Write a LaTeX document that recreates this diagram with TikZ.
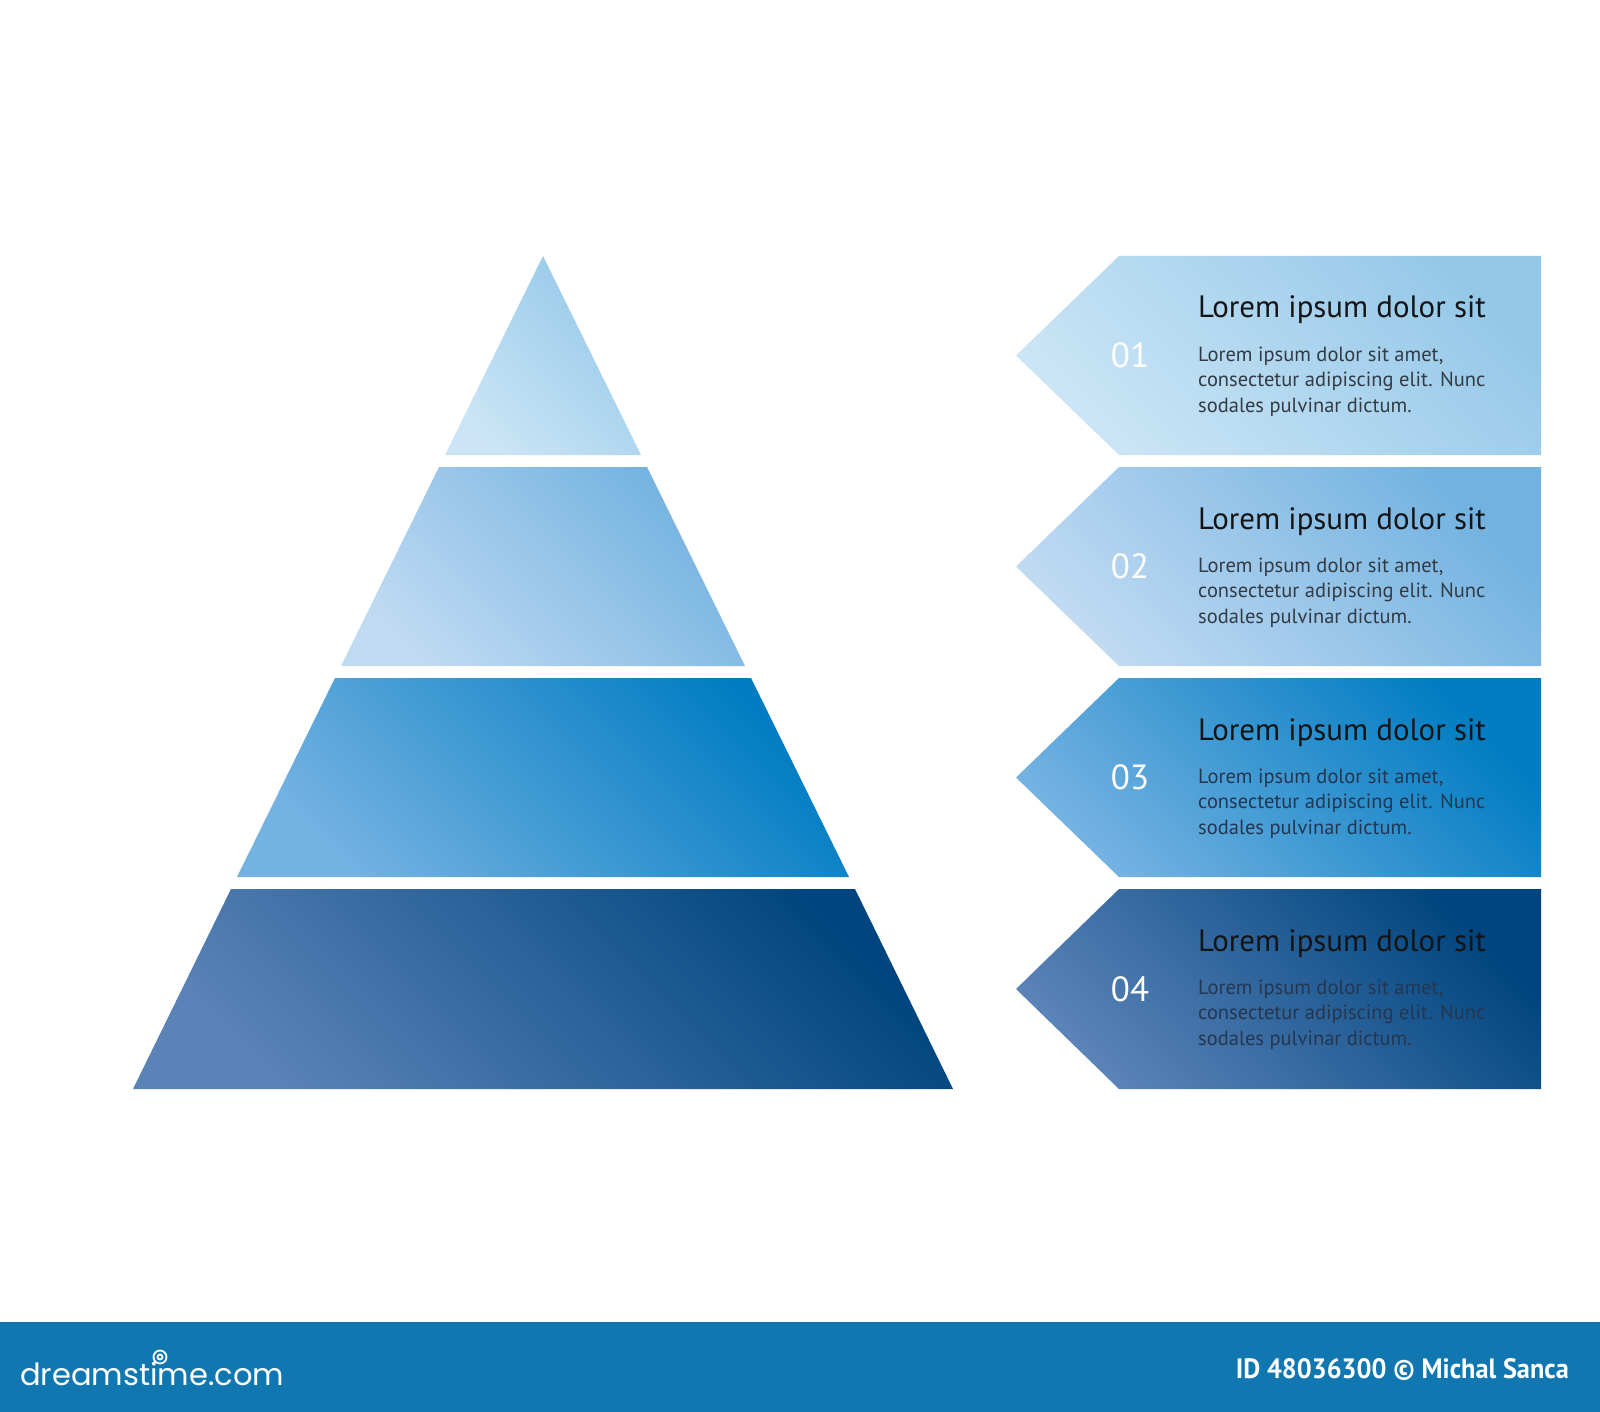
\documentclass[tikz,border=0pt]{standalone}
\usepackage{fontspec}
\setmainfont{PT Sans}
\newfontfamily\logofont{Poppins}
\newfontfamily\idfont{PT Sans}
\definecolor{lA1}{HTML}{CBE5F6}\definecolor{lA2}{HTML}{95C8E8}
\definecolor{lB1}{HTML}{C0DAF2}\definecolor{lBm}{HTML}{B6D4F0}\definecolor{lB2}{HTML}{72B2E0}
\definecolor{lC1}{HTML}{74B2E2}\definecolor{lCm}{HTML}{1192D5}\definecolor{lC2}{HTML}{007CC2}
\definecolor{lD1}{HTML}{5A83B7}\definecolor{lDm}{HTML}{0B5E9C}\definecolor{lD2}{HTML}{00457F}
\definecolor{bodyA}{HTML}{333B45}\definecolor{bodyB}{HTML}{253650}
\definecolor{banner}{HTML}{1077B0}
\begin{document}
\begin{tikzpicture}[x=1pt,y=-1pt,
  titletext/.style={font=\fontsize{30.9}{36}\selectfont, text=black!92, anchor=base west, inner sep=0pt},
  bodytext/.style={font=\fontsize{20.5}{24}\selectfont, text=#1, anchor=base west, inner sep=0pt},
  numtext/.style={font=\fontsize{35}{40}\selectfont, text=white, inner sep=0pt},
  shA/.style={bottom color=lA1, top color=lA2, shading angle=-45},
  shB/.style={bottom color=lB1, middle color=lBm, top color=lB2, shading angle=-45},
  shC/.style={bottom color=lC1, middle color=lCm, top color=lC2, shading angle=-45},
  shD/.style={bottom color=lD1, middle color=lDm, top color=lD2, shading angle=-45}]
\useasboundingbox (0,0) rectangle (1600,1412);
\fill[white] (0,0) rectangle (1600,1412);
% pyramid
\shade[shA] (543,256) -- (641,455) -- (445,455) -- cycle;
\shade[shB] (439,467) -- (647,467) -- (745,666) -- (341,666) -- cycle;
\shade[shC] (335,678) -- (751,678) -- (849,877) -- (237,877) -- cycle;
\shade[shD] (231,889) -- (855,889) -- (953,1089) -- (133,1089) -- cycle;
% arrow boxes with texts
\foreach \i/\st/\num/\bc in {0/shA/01/bodyA, 1/shB/02/bodyA, 2/shC/03/bodyB, 3/shD/04/bodyB}{
  \pgfmathsetmacro\T{256+211*\i}
  \pgfmathsetmacro\B{\T+199+(\i==3 ? 1 : 0)}
  \pgfmathsetmacro\M{(\T+\B)/2}
  \pgfmathtruncatemacro\n{\i+1}
  \shade[\st] (1016,\M) -- (1119,\T) -- (1541,\T) -- (1541,\B) -- (1119,\B) -- cycle;
  \node[numtext] (num\n) at (1130,\M) {\num};
  \node[titletext] (title\n) at (1198,\T+62) {Lorem ipsum dolor sit};
  \node[bodytext=\bc] (bodyl\n a) at (1198,\T+105) {Lorem ipsum dolor sit amet,};
  \node[bodytext=\bc] (bodyl\n b) at (1198,\T+130.5) {consectetur adipiscing elit. Nunc};
  \node[bodytext=\bc] (bodyl\n c) at (1198,\T+156) {sodales pulvinar dictum.};
}
% banner
\fill[banner] (0,1322) rectangle (1600,1412);
\node[anchor=west, text=white, inner sep=0pt] (logo) at (20,1374)
  {\resizebox{264pt}{!}{\logofont dreamstime.com}};
\draw[white, line width=1.8pt] (160,1357) circle (6.5) (160,1357) circle (2.5);
\node[anchor=east, text=white, inner sep=0pt] (credit) at (1569,1369)
  {\scalebox{0.94}[1]{\idfont\bfseries\fontsize{28}{32}\selectfont ID 48036300 © Michal Sanca}};
\end{tikzpicture}
\end{document}
